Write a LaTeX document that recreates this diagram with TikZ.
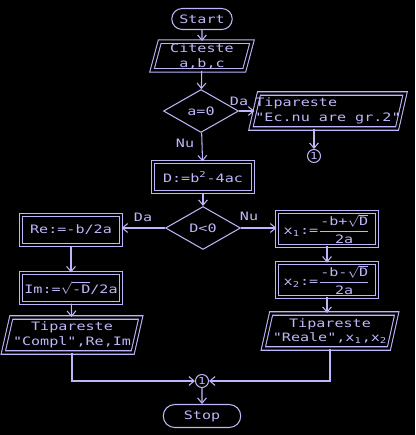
\documentclass[tikz,border=0pt]{standalone}
\usepackage{fontspec}
\newfontfamily\pixfont[FakeStretch=1.3]{DejaVu Sans Mono}
\usetikzlibrary{shapes.geometric,shapes.misc,arrows.meta}
\definecolor{lav}{RGB}{190,182,250}
\tikzset{
  base/.style={draw=lav, text=lav, line width=0.6pt, inner sep=1pt, font=\pixfont\fontsize{6.6}{8.5}\selectfont},
  term/.style={base, rounded rectangle, minimum width=#1, minimum height=0.42cm},
  proc/.style={base, rectangle, double=black, double distance=1.4pt, minimum height=0.6cm, minimum width=2cm},
  io/.style={base, trapezium, trapezium left angle=75, trapezium right angle=105, trapezium stretches body, double=black, double distance=1.4pt, minimum height=0.7cm, minimum width=#1, inner xsep=-2pt, align=center},
  cond/.style={base, diamond, minimum width=1.5cm, minimum height=0.86cm, inner sep=0pt},
  conn/.style={base, circle, minimum size=0.26cm, inner sep=0pt, font=\pixfont\fontsize{5.5}{6}\selectfont},
  lbl/.style={text=lav, inner sep=0pt, font=\pixfont\fontsize{6.6}{8}\selectfont},
  arr/.style={draw=lav, line width=0.6pt, -{Straight Barb[length=3pt,width=5pt]}},
}
\begin{document}
\begin{tikzpicture}[x=0.02cm, y=-0.02cm]
  \fill[black] (0,0) rectangle (415,435);
  \useasboundingbox (0,0) rectangle (415,435);

  % main column
  \node[term=1.28cm] (start) at (202,19) {Start};
  \node[io=2.0cm, minimum height=0.56cm] (cit) at (202,56) {Citeste\\a,b,c};
  \node[cond] (a0) at (201,111) {a=0};
  \node[io=3.05cm, align=left] (ec) at (328,111) {Tipareste\\"Ec.nu are gr.2"};
  \node[conn] (c1) at (314,156) {1};
  \node[proc] (dd) at (203,177) {D:=b\textsuperscript{2}-4ac};
  \node[cond] (d0) at (203,228) {D<0};

  % left branch
  \node[proc] (re) at (71,230) {Re:=-b/2a};
  \node[proc] (im) at (71,288) {Im:=$\sqrt{\hbox{-D}}$/2a};
  \node[io=2.6cm, inner xsep=1pt] (compl) at (72,335) {Tipareste\\"Compl",Re,Im};

  % right branch
  \node[proc] (x1) at (327,229) {x\textsubscript{1}:=${\displaystyle\frac{\hbox{-b+}\sqrt{\hbox{D}}}{\hbox{2a}}}$};
  \node[proc] (x2) at (327,280) {x\textsubscript{2}:=${\displaystyle\frac{\hbox{-b-}\sqrt{\hbox{D}}}{\hbox{2a}}}$};
  \node[io=2.6cm, inner xsep=1pt] (reale) at (330,331) {Tipareste\\"Reale",x\textsubscript{1},x\textsubscript{2}};

  \node[conn] (c2) at (202,381) {1};
  \node[term=1.62cm, minimum height=0.46cm] (stop) at (202,416) {Stop};

  % labels
  \node[lbl] (da1) at (239,101) {Da};
  \node[lbl] (nu1) at (185,143) {Nu};
  \node[lbl] (da2) at (143,217) {Da};
  \node[lbl] (nu2) at (249,216) {Nu};

  % connectors
  \draw[arr] (start) -- (cit);
  \draw[arr] (cit) -- (a0);
  \draw[arr] (a0.east) -- (a0.east -| ec.west);
  \draw[arr] (ec.south -| c1) -- (c1);
  \draw[arr] (a0) -- (dd);
  \draw[arr] (dd) -- (d0);
  \draw[arr] (d0.west) -- (d0.west -| re.east);
  \draw[arr] (d0.east) -- (d0.east -| x1.west);
  \draw[arr] (re) -- (im);
  \draw[arr] (im) -- (compl);
  \draw[arr] (x1) -- (x2);
  \draw[arr] (x2.south) -- (x2.south |- reale.north);
  \draw[arr] (compl.south) |- (c2.west);
  \draw[arr] (reale.south) |- (c2.east);
  \draw[arr] (c2) -- (stop);
\end{tikzpicture}
\end{document}
